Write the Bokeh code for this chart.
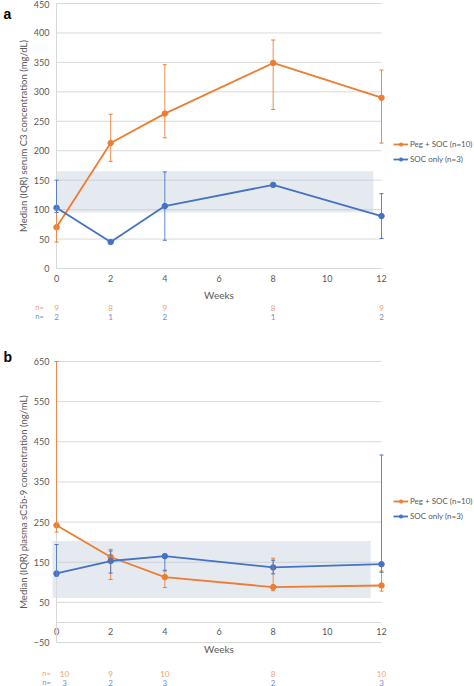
from bokeh.plotting import figure
from bokeh.models import (ColumnDataSource, Range1d, Whisker, TeeHead,
                          Legend, LegendItem, FixedTicker, LinearAxis)
from bokeh.layouts import column
from bokeh.embed import file_html
from bokeh.resources import INLINE
from bokeh.core.properties import value

# ---------------- data ----------------
weeks = [0, 2, 4, 8, 12]
x_ticks = [0, 2, 4, 6, 8, 10, 12]

# Panel a: serum C3 (mg/dL)
c3_peg_median = [70, 213, 263, 349, 290]
c3_peg_q1 = [45, 182, 222, 270, 213]
c3_peg_q3 = [100, 262, 346, 388, 337]
c3_soc_median = [103, 45, 106, 142, 89]
c3_soc_q1 = [95, 45, 48, 142, 51]
c3_soc_q3 = [150, 45, 164, 142, 127]
c3_peg_n = [9, 8, 9, 8, 9]
c3_soc_n = [2, 1, 2, 1, 2]
c3_normal = [95, 165]
c3_normal_weeks = [0, 11.7]
c3_yticks = [0, 50, 100, 150, 200, 250, 300, 350, 400, 450]

# Panel b: plasma sC5b-9 (ng/mL)
sc_peg_median = [242, 163, 113, 88, 92]
sc_peg_q1 = [225, 107, 87, 79, 78]
sc_peg_q3 = [650, 182, 128, 160, 128]
sc_soc_median = [122, 153, 165, 137, 145]
sc_soc_q1 = [115, 123, 130, 121, 125]
sc_soc_q3 = [194, 178, 170, 155, 417]
sc_peg_n = [10, 9, 10, 8, 10]
sc_soc_n = [3, 2, 3, 2, 3]
sc_normal = [61, 203]
sc_normal_weeks = [-0.15, 11.6]
sc_yticks = [-50, 50, 150, 250, 350, 450, 550, 650]

series_labels = ["Peg + SOC (n=10)", "SOC only (n=3)"]

ORANGE = "#ED7D31"
BLUE = "#4472C4"
GREY_TXT = "#595959"
GRID = "#D9D9D9"
FONT = "Lato"

W, H = 474, 343          # canvas of one panel
X0_PX, X1_PX = 56, 381   # pixel of week 0 and week 12


def build(letter, ylab, yticks, peg, soc, peg_n, soc_n, normal, normal_w,
          top_px, bot_px, axis_at, n_px, n_label_px, first_shift,
          letter_px, legend_px):
    ymin, ymax = yticks[0], yticks[-1]
    xs = (X1_PX - X0_PX) / 12.0
    ys = (bot_px - top_px) / float(ymax - ymin)
    x_range = Range1d(-X0_PX / xs, (W - X0_PX) / xs)
    y_range = Range1d(ymin - (H - bot_px) / ys, ymax + top_px / ys)

    def dx(px):
        return (px - X0_PX) / xs

    def dy(py):
        return ymin - (py - bot_px) / ys

    p = figure(width=W, height=H, x_range=x_range, y_range=y_range,
               min_border=0, x_axis_type=None, y_axis_type=None,
               output_backend="svg", toolbar_location=None)
    p.outline_line_color = None
    p.background_fill_color = "white"

    # horizontal gridlines over the plot area
    p.segment(x0=[0] * len(yticks), x1=[12] * len(yticks), y0=yticks, y1=yticks,
              line_color=GRID, line_width=1)

    xa = LinearAxis(fixed_location=axis_at, bounds=(0, 12),
                    ticker=FixedTicker(ticks=x_ticks), axis_label="Weeks")
    ya = LinearAxis(fixed_location=0, bounds=(ymin, ymax),
                    ticker=FixedTicker(ticks=yticks), axis_label=ylab)
    for ax in (xa, ya):
        ax.major_tick_line_color = None
        ax.minor_tick_line_color = None
        ax.major_tick_out = 0
        ax.major_tick_in = 0
        ax.axis_line_color = GRID
        ax.major_label_text_font = FONT
        ax.major_label_text_font_size = "9px"
        ax.major_label_text_color = GREY_TXT
        ax.axis_label_text_font = FONT
        ax.axis_label_text_font_style = "normal"
        ax.axis_label_text_color = GREY_TXT
    ya.major_label_standoff = 7
    ya.axis_label_text_font_size = "9.5px"
    ya.axis_label_standoff = 2
    xa.axis_label_text_font_size = "10px"
    xa.major_label_standoff = 6
    xa.axis_label_standoff = 4
    p.add_layout(xa, "below")
    p.add_layout(ya, "left")

    # normal-range band
    p.quad(left=[normal_w[0]], right=[normal_w[1]], bottom=[normal[0]],
           top=[normal[1]], fill_color="#B4C2D8", fill_alpha=0.35,
           line_color=None)

    renderers = []
    for (med, q1, q3), color in ((peg, ORANGE), (soc, BLUE)):
        keep = [i for i in range(len(weeks)) if q1[i] != q3[i]]
        wsrc = ColumnDataSource(dict(x=[weeks[i] for i in keep],
                                     lo=[q1[i] for i in keep],
                                     hi=[q3[i] for i in keep]))
        wh = Whisker(base="x", lower="lo", upper="hi", source=wsrc,
                     dimension="height", line_color=color, line_width=1,
                     line_alpha=0.85, level="annotation",
                     upper_head=TeeHead(size=4, line_color=color, line_width=1),
                     lower_head=TeeHead(size=4, line_color=color, line_width=1))
        p.add_layout(wh)
        src = ColumnDataSource(dict(x=weeks, y=med))
        lr = p.line("x", "y", source=src, line_color=color, line_width=1.8)
        sr = p.scatter("x", "y", source=src, size=5.5, fill_color=color,
                       line_color=color)
        renderers.append([lr, sr])

    legend = Legend(items=[LegendItem(label=series_labels[0], renderers=renderers[0]),
                           LegendItem(label=series_labels[1], renderers=renderers[1])],
                    location=(legend_px[0], H - legend_px[1]),
                    orientation="vertical",
                    border_line_color=None, background_fill_alpha=0,
                    label_text_font=FONT, label_text_font_size="8px",
                    label_text_color=GREY_TXT, glyph_width=15, glyph_height=8,
                    label_standoff=2, spacing=4, padding=0, margin=0,
                    label_height=11)
    p.add_layout(legend)

    # n= rows below the axis
    shifts = [first_shift] + [0] * (len(weeks) - 1)
    for ns, py, color in ((peg_n, n_px[0], "#F0A26E"), (soc_n, n_px[1], "#6F8FD0")):
        p.text(x=weeks, y=[dy(py)] * len(weeks), text=[str(v) for v in ns],
               x_offset=shifts,
               text_font=value(FONT), text_font_size="8px", text_color=color,
               text_align="center", text_baseline="middle")
        p.text(x=[dx(n_label_px)], y=[dy(py)], text=["n="], text_font=value(FONT),
               text_font_size="7.5px", text_color=color,
               text_align="center", text_baseline="middle")

    p.text(x=[dx(letter_px[0])], y=[dy(letter_px[1])], text=[letter],
           text_font=value("Liberation Sans"), text_font_style="bold",
           text_font_size="14px", text_color="black",
           text_align="left", text_baseline="alphabetic")
    return p


pa = build("a", "Median (IQR) serum C3 concentration (mg/dL)", c3_yticks,
           (c3_peg_median, c3_peg_q1, c3_peg_q3),
           (c3_soc_median, c3_soc_q1, c3_soc_q3), c3_peg_n, c3_soc_n,
           c3_normal, c3_normal_weeks, top_px=3, bot_px=268, axis_at=0,
           n_px=(307, 316), n_label_px=39, first_shift=0,
           letter_px=(3, 13), legend_px=(393, 164))

pb = build("b", "Median (IQR) plasma sC5b-9 concentration (ng/mL)", sc_yticks,
           (sc_peg_median, sc_peg_q1, sc_peg_q3),
           (sc_soc_median, sc_soc_q1, sc_soc_q3), sc_peg_n, sc_soc_n,
           sc_normal, sc_normal_weeks, top_px=18, bot_px=299, axis_at=0,
           n_px=(330, 339), n_label_px=46, first_shift=8,
           letter_px=(3, 13), legend_px=(393, 178))

layout = column(pa, pb, spacing=0)
open("out.html", "w").write(file_html(layout, INLINE))
